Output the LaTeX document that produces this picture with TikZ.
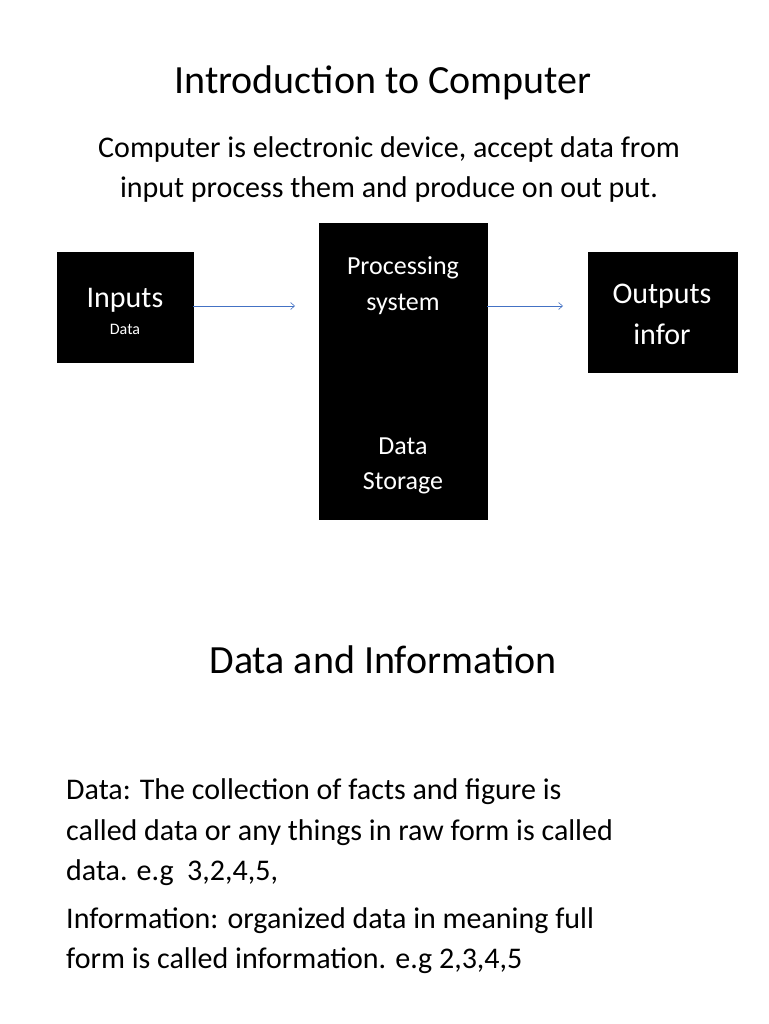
\documentclass[tikz,border=0pt]{standalone}
\usepackage{fontspec}
\setmainfont{Carlito}
\usetikzlibrary{arrows.meta}
\begin{document}
\begin{tikzpicture}[x=1pt,y=-1pt,
  blk/.style={fill=black,draw=black,text=white,align=center,inner sep=0},
  conn/.style={draw={rgb,255:red,68;green,114;blue,196},line width=0.6pt,-{Straight Barb[length=4pt,width=7pt]}},
  txt/.style={inner sep=0,anchor=base}]
\useasboundingbox (0,0) rectangle (768,1024);
\node[txt] (title) at (383,94) {\fontsize{40}{48}\selectfont Introduction to Computer};
\node[txt] (l1) at (389,158) {\fontsize{30}{36}\selectfont Computer is electronic device, accept data from};
\node[txt] (l2) at (389,198) {\fontsize{30}{36}\selectfont input process them and produce on out put.};
\path[blk] (57,252) rectangle (193,362);
\path[blk] (319,223) rectangle (487,519);
\path[blk] (588,252) rectangle (737,372);
\node[blk,fill=none,draw=none] (in) at (125,306) {};
\node[txt,text=white] (intext) at (125,307) {\fontsize{30}{36}\selectfont Inputs};
\node[txt,text=white] (indata) at (125,334) {\fontsize{16}{19}\selectfont Data};
\node[txt,text=white] (p1) at (403,274) {\fontsize{26}{31}\selectfont Processing};
\node[txt,text=white] (p2) at (403,310) {\fontsize{26}{31}\selectfont system};
\node[txt,text=white] (d1) at (403,454) {\fontsize{26}{31}\selectfont Data};
\node[txt,text=white] (d2) at (403,489) {\fontsize{26}{31}\selectfont Storage};
\node[txt,text=white] (o1) at (662,303) {\fontsize{30}{36}\selectfont Outputs};
\node[txt,text=white] (o2) at (662,344) {\fontsize{30}{36}\selectfont infor};
\coordinate (a1s) at (193,306); \coordinate (a1e) at (295,306);
\coordinate (a2s) at (487,306); \coordinate (a2e) at (563,306);
\draw[conn] (a1s) -- (a1e);
\draw[conn] (a2s) -- (a2e);
\node[txt] (h2) at (383,673) {\fontsize{40}{48}\selectfont Data and Information};
\begin{scope}[every node/.style={txt,anchor=base west}]
\node (t1) at (66,799) {\fontsize{30}{36}\selectfont Data: The collection of facts and figure is};
\node (t2) at (66,840) {\fontsize{30}{36}\selectfont called data or any things in raw form is called};
\node (t3) at (66,880) {\fontsize{30}{36}\selectfont data. e.g\ \ 3,2,4,5,};
\node (t4) at (66,928) {\fontsize{30}{36}\selectfont Information: organized data in meaning full};
\node (t5) at (66,968) {\fontsize{30}{36}\selectfont form is called information. e.g 2,3,4,5};
\end{scope}
\end{tikzpicture}
\end{document}
